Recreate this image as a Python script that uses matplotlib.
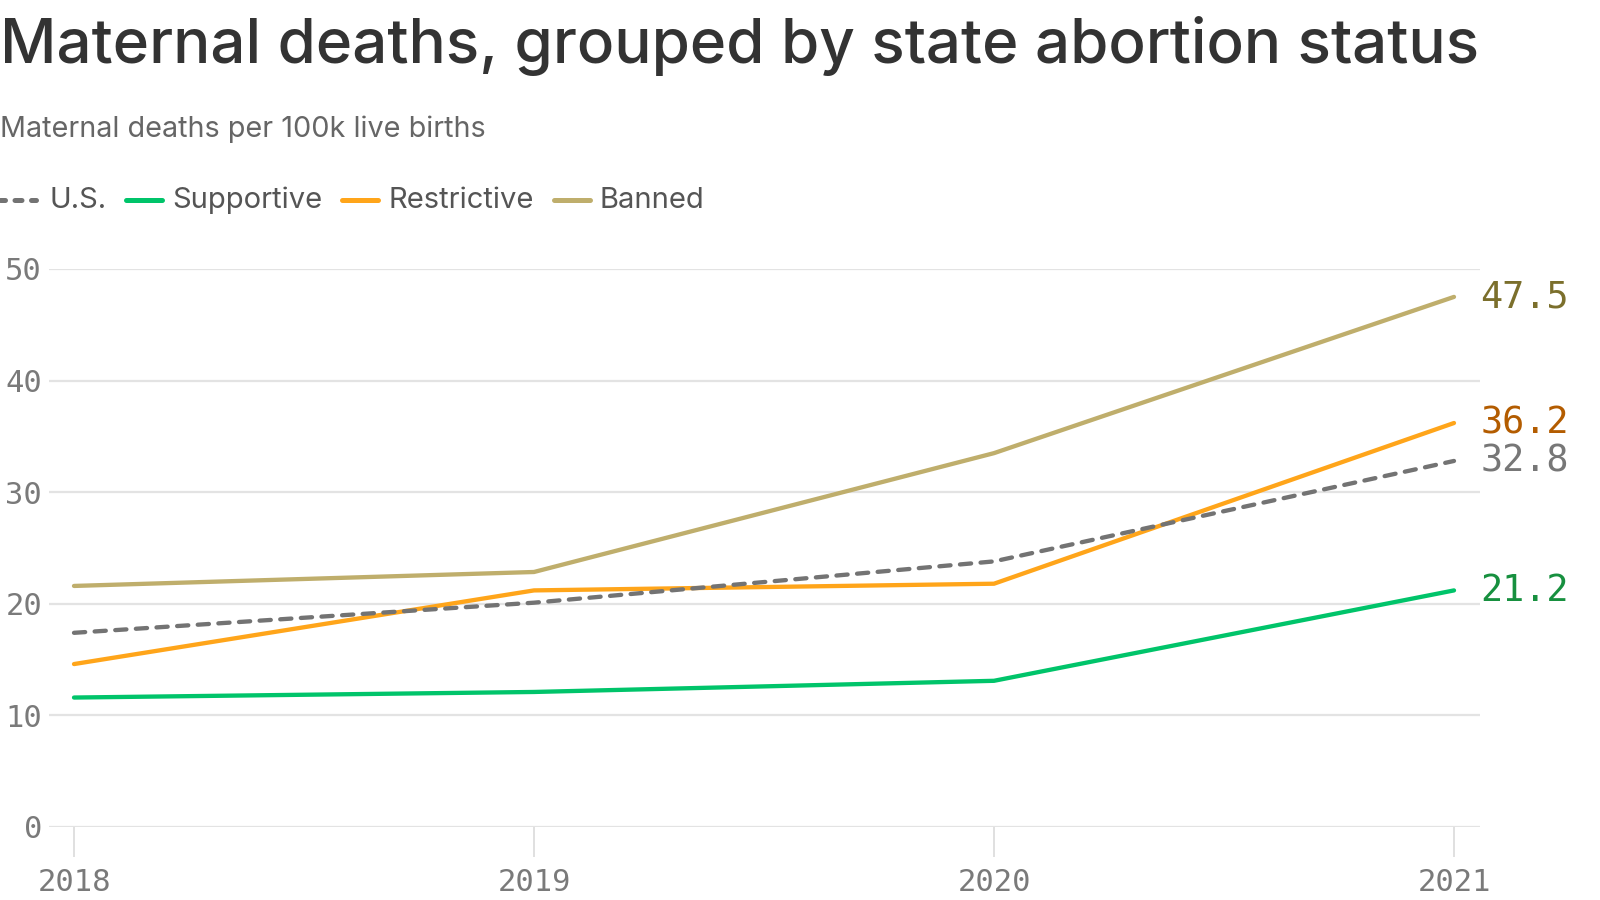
import matplotlib.pyplot as plt
from matplotlib.lines import Line2D

# values
years = [2018, 2019, 2020, 2021]
us = [17.4, 20.1, 23.8, 32.8]
supportive = [11.6, 12.1, 13.1, 21.2]
restrictive = [14.6, 21.2, 21.8, 36.2]
banned = [21.6, 22.85, 33.5, 47.5]

series_names = ['U.S.', 'Supportive', 'Restrictive', 'Banned']
line_colors = ['#737373', '#00c46a', '#ffa51a', '#bfae6c']
label_colors = ['#777777', '#17903f', '#b35c00', '#7b6f2c']
yticks = [0, 10, 20, 30, 40, 50]

W, H = 1600, 900
plt.rcParams['font.family'] = ['Inter', 'DejaVu Sans']
mono = 'DejaVu Sans Mono'

fig = plt.figure(figsize=(16, 9), dpi=100)
# plot area: grid from x=49 to 1480, y=0 at 827, y=50 at 269 (pixels)
ax = fig.add_axes([49 / W, (H - 827) / H, (1480 - 49) / W, (827 - 269) / H])

all_series = [us, supportive, restrictive, banned]
for i in [3, 2, 1, 0]:
    style = (0, (2.6, 2.2)) if i == 0 else '-'
    ax.plot(years, all_series[i], color=line_colors[i], lw=3.1,
            linestyle=style, solid_capstyle='round', dash_capstyle='round',
            clip_on=False, zorder=3 + (i == 0))

# end labels
for i in range(4):
    ax.annotate(f'{all_series[i][-1]:.1f}', xy=(years[-1], all_series[i][-1]),
                xytext=(19, 0), textcoords='offset points', va='center', ha='left',
                family=mono, fontsize=26.5, color=label_colors[i])

ax.set_xlim(2018 - 25 / 460, 2021 + 26 / 460)
ax.set_ylim(0, 50)
ax.set_yticks(yticks)
ax.set_xticks(years)
ax.set_xticklabels([str(y) for y in years])
ax.grid(axis='y', color='#e3e3e3', lw=1.6)
ax.set_axisbelow(True)
for s in ax.spines.values():
    s.set_visible(False)
ax.tick_params(axis='y', length=0, pad=5, labelsize=22, labelcolor='#7a7a7a')
ax.tick_params(axis='x', length=21.5, width=1.4, color='#e0e0e0', pad=8,
               labelsize=22, labelcolor='#7a7a7a')
for lab in ax.get_xticklabels() + ax.get_yticklabels():
    lab.set_family(mono)

renderer = fig.canvas.get_renderer()


def fit_text(y, s, target_w, size, **kw):
    t = fig.text(0, 1 - y / H, s, fontsize=size, va='baseline', ha='left', **kw)
    w = t.get_window_extent(renderer).width
    t.set_fontsize(size * target_w / w)
    return t


fit_text(63, 'Maternal deaths, grouped by state abortion status', 1477, 45,
         color='#333333', weight='medium')
fit_text(137, 'Maternal deaths per 100k live births', 485, 20, color='#666666')

# legend, drawn by hand so spacing matches
leg_y = 1 - 200 / H
x = 0.0
for i, name in enumerate(series_names):
    if i == 0:
        ln = Line2D([x / W, (x + 36) / W], [leg_y, leg_y], transform=fig.transFigure,
                    color=line_colors[i], lw=3.6, linestyle=(0.4, (1.4, 1.9)),
                    dash_capstyle='round')
        x += 49
    else:
        ln = Line2D([(x + 2) / W, (x + 38) / W], [leg_y, leg_y], transform=fig.transFigure,
                    color=line_colors[i], lw=3.6, solid_capstyle='round')
        x += 48
    fig.add_artist(ln)
    t = fig.text(x / W, 1 - 208 / H, name, fontsize=21, color='#555555',
                 va='baseline', ha='left')
    x += t.get_window_extent(renderer).width + 18

fig.savefig('out.png', dpi=100, facecolor='white')
